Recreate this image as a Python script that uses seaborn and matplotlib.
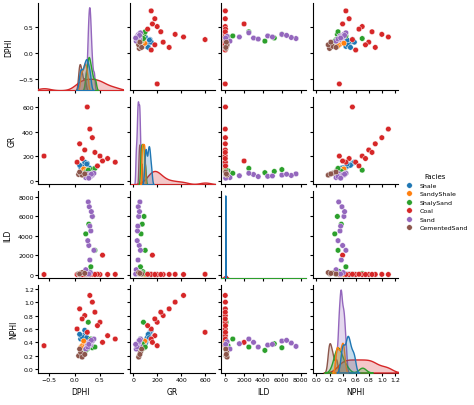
import pandas as pd
import matplotlib.pyplot as plt
import seaborn as sns

FACIES_ORDER = ['Shale', 'SandyShale', 'ShalySand', 'Coal', 'Sand', 'CementedSand']

FACIES = (['Shale'] * 10 + ['SandyShale'] * 6 + ['ShalySand'] * 8 + ['Coal'] * 14
          + ['Sand'] * 14 + ['CementedSand'] * 5)
DPHI = [0.12, 0.18, 0.22, 0.25, 0.15, 0.28, 0.20, 0.10, 0.30, 0.24,
        0.15, 0.20, 0.12, 0.25, 0.18, 0.22,
        0.25, 0.30, 0.22, 0.35, 0.28, 0.32, 0.27, 0.40,
        0.05, 0.20, 0.35, 0.50, 0.65, 0.80, -0.60, 0.10, 0.45, 0.30, 0.25, 0.55, 0.15, 0.40,
        0.25, 0.30, 0.28, 0.32, 0.35, 0.27, 0.22, 0.38, 0.30, 0.29, 0.31, 0.26, 0.33, 0.28,
        0.08, 0.12, 0.15, 0.10, 0.20]
GR = [110, 130, 95, 140, 120, 105, 150, 125, 100, 135,
      80, 90, 70, 85, 95, 75,
      70, 80, 65, 90, 75, 60, 85, 100,
      150, 250, 350, 200, 180, 150, 200, 300, 120, 420, 600, 160, 180, 230,
      30, 40, 50, 35, 45, 55, 25, 60, 38, 42, 48, 33, 52, 20,
      50, 60, 45, 70, 55]
ILD = [5, 8, 12, 6, 10, 15, 4, 9, 20, 7,
       15, 25, 30, 20, 10, 40,
       50, 300, 4200, 6000, 5200, 800, 100, 2500,
       5, 10, 20, 3, 8, 15, 2, 12, 30, 6, 25, 2000, 4, 9,
       100, 1500, 3000, 4500, 6000, 7500, 500, 2500, 5000, 7000, 200, 3500, 6500, 50,
       80, 150, 200, 60, 120]
NPHI = [0.45, 0.50, 0.42, 0.55, 0.48, 0.40, 0.58, 0.52, 0.38, 0.47,
        0.35, 0.40, 0.32, 0.38, 0.42, 0.30,
        0.30, 0.35, 0.28, 0.32, 0.38, 0.45, 0.70, 0.33,
        0.60, 0.80, 1.00, 0.70, 0.50, 0.45, 0.35, 0.90, 0.65, 1.10, 0.55, 0.40, 0.75, 0.85,
        0.35, 0.38, 0.40, 0.36, 0.42, 0.34, 0.30, 0.45, 0.37, 0.39, 0.41, 0.33, 0.43, 0.37,
        0.20, 0.25, 0.18, 0.30, 0.22]

df = pd.DataFrame({'DPHI': DPHI, 'GR': GR, 'ILD': ILD, 'NPHI': NPHI, 'Facies': FACIES})

plt.rcParams.update({'font.size': 5, 'axes.labelsize': 5.5,
                     'xtick.labelsize': 4.5, 'ytick.labelsize': 4.5,
                     'legend.fontsize': 4.5})

g = sns.pairplot(df, hue='Facies', hue_order=FACIES_ORDER, height=1.0,
                 plot_kws={'s': 16, 'edgecolor': 'white', 'linewidth': 0.3},
                 diag_kws={'bw_adjust': 0.6})
g.figure.set_size_inches(4.74, 4.06)

lims = {'DPHI': (-0.72, 0.95), 'GR': (-30, 680), 'ILD': (-400, 8600), 'NPHI': (-0.05, 1.25)}
ticks = {'DPHI': [-0.5, 0.0, 0.5], 'GR': [0, 200, 400, 600],
         'ILD': [0, 2000, 4000, 6000, 8000], 'NPHI': [0.0, 0.2, 0.4, 0.6, 0.8, 1.0, 1.2]}
cols = ['DPHI', 'GR', 'ILD', 'NPHI']
for i, r in enumerate(cols):
    for j, c in enumerate(cols):
        ax = g.axes[i, j]
        ax.set_xlim(lims[c])
        ax.set_xticks(ticks[c])
        if i != j:
            ax.set_ylim(lims[r])
            ax.set_yticks(ticks[r])
        ax.tick_params(length=2, pad=1)

sns.move_legend(g, 'center right', bbox_to_anchor=(1.0, 0.5), title='Facies',
                title_fontsize=5, markerscale=1.0, frameon=False)
g.figure.subplots_adjust(left=0.08, bottom=0.08, right=0.84, top=0.99,
                         wspace=0.08, hspace=0.08)
g.figure.savefig('out.png', dpi=100)
